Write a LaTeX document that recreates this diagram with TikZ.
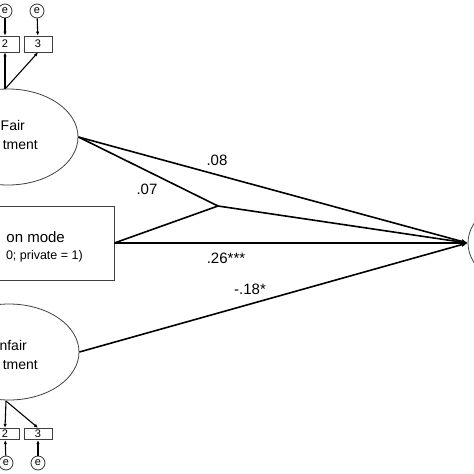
\documentclass[tikz,border=0pt]{standalone}
\usepackage{fontspec}
\setmainfont{Liberation Sans}
\usetikzlibrary{arrows.meta,shapes.geometric}
\begin{document}
\begin{tikzpicture}[x=1pt,y=-1pt,
  latent/.style={draw=black!75,line width=0.8pt,ellipse,minimum width=140pt,minimum height=96pt,inner sep=0pt},
  obsbox/.style={draw=black!75,line width=0.8pt,rectangle,minimum width=28pt,inner sep=0pt,font=\fontsize{11}{11}\selectfont},
  errc/.style={draw=black!80,line width=0.8pt,circle,minimum size=14pt,inner sep=0pt,font=\fontsize{11}{11}\selectfont},
  path/.style={line width=1.6pt,-{Latex[length=6pt,width=5pt]}},
  plain/.style={line width=1.6pt},
  ind/.style={line width=1.1pt,-{Latex[length=4pt,width=3.5pt]}},
  lbl/.style={font=\fontsize{15}{15}\selectfont,inner sep=0pt},
  txt/.style={font=\fontsize{14}{14}\selectfont,inner sep=0pt,anchor=base east}]
\useasboundingbox (0,0) rectangle (474,474);
\clip (0,0) rectangle (474,474);
% latent variables
\node[latent] (fair) at (8,137) {};
\node[latent] (unfair) at (9,352) {};
\node[latent] (dv) at (538,243) {};
\node[draw=black!75,line width=0.8pt,rectangle,minimum width=160pt,minimum height=74pt,inner sep=0pt] (mode) at (34,243) {};
% texts
\node[txt,anchor=base west] (t1) at (0.5,130) {Fair};
\node[txt] (t2) at (38,149) {tment};
\node[txt] (t3) at (27,350) {nfair};
\node[txt] (t4) at (38,369) {tment};
\node[txt,font=\fontsize{15}{15}\selectfont] (t5) at (65,242) {on mode};
\node[txt,font=\fontsize{12.5}{12.5}\selectfont] (t6) at (83,259) {0; private = 1)};
% indicators top
\node[obsbox,minimum height=16pt] (a2) at (5,44) {2};
\node[obsbox,minimum height=16pt] (a3) at (38,44) {3};
\node[errc] (ea2) at (5,11) {e};
\node[errc] (ea3) at (37,11) {e};
\draw[ind] (ea2) -- (a2);
\draw[ind] (ea3) -- (a3);
\coordinate (ftop) at (5,89);
\draw[ind] (ftop) -- (a2.south);
\draw[ind] (ftop) -- (a3.south);
% indicators bottom
\node[obsbox,minimum height=11.5pt] (b2) at (5,434) {2};
\node[obsbox,minimum height=11.5pt] (b3) at (38,434) {3};
\node[errc] (eb2) at (6,463) {e};
\node[errc] (eb3) at (38,463) {e};
\draw[ind] (eb2) -- (b2);
\draw[ind] (eb3) -- (b3);
\coordinate (ubot) at (6,401);
\draw[ind] (ubot) -- (b2.north);
\draw[ind] (ubot) -- (b3.north);
% structural paths
\coordinate (int) at (218,206);
\draw[plain] (fair.east) -- (int);
\draw[plain] (mode.east) -- (int);
\draw[path] (int) -- (dv.west);
\draw[path] (fair.east) -- (dv.west);
\draw[path] (mode.east) -- (dv.west);
\draw[path] (unfair.east) -- (dv.west);
% labels
\node[lbl] (l08) at (217,160) {.08};
\node[lbl] (l07) at (147,189) {.07};
\node[lbl] (l26) at (226,258) {.26***};
\node[lbl] (l18) at (250,289) {-.18*};
\end{tikzpicture}
\end{document}
